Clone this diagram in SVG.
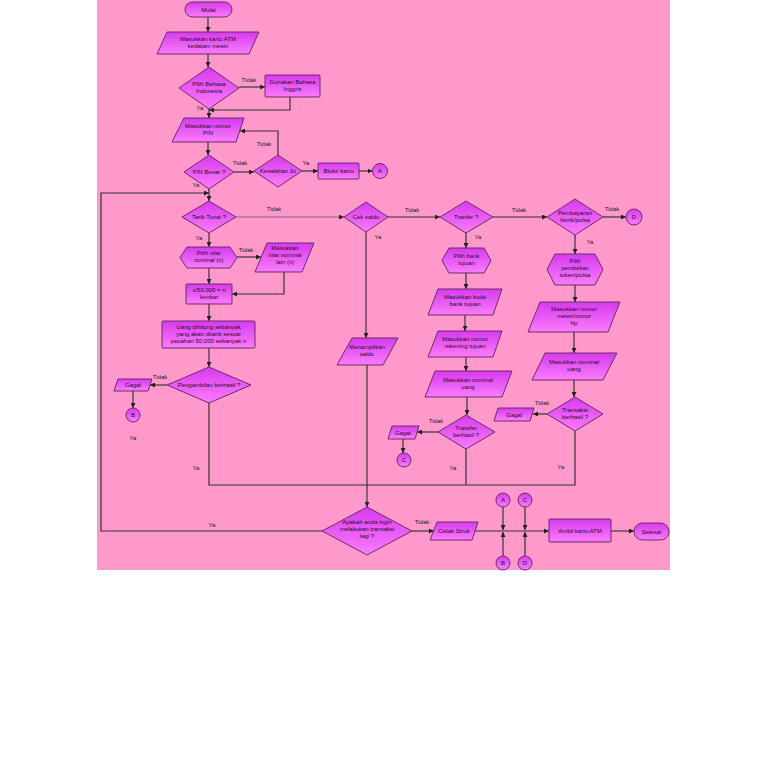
<svg xmlns="http://www.w3.org/2000/svg" width="768" height="765" viewBox="0 0 768 765">
<defs>
<linearGradient id="g" x1="0" y1="0" x2="0" y2="1">
<stop offset="0" stop-color="#D63AEE"/>
<stop offset="1" stop-color="#FA7CFA"/>
</linearGradient>
<marker id="ar" viewBox="0 0 10 10" refX="10" refY="5" markerWidth="5" markerHeight="5" orient="auto" markerUnits="userSpaceOnUse">
<path d="M0,0 L10,5 L0,10 z" fill="#222"/>
</marker>
<style>
.n{fill:url(#g);stroke:#6B2C6B;stroke-width:1}
.t{font-family:"Liberation Sans",Arial,sans-serif;font-size:6px;fill:#2a0a2a;text-anchor:middle}
.l{font-family:"Liberation Sans",Arial,sans-serif;font-size:6px;fill:#222;text-anchor:middle}
.c{stroke:#333;stroke-width:1.2;fill:none}
.a{marker-end:url(#ar)}
.gr{stroke:#8a5a7a}
</style>
</defs>
<rect x="0" y="0" width="768" height="765" fill="#ffffff"/>
<rect x="97" y="0" width="573" height="570" fill="#FF99CC"/>

<g id="connectors">
<line class="c a" x1="208" y1="17" x2="208" y2="32"/>
<line class="c a" x1="208" y1="54" x2="208" y2="67"/>
<line class="c a" x1="239" y1="87" x2="265" y2="87"/>
<polyline class="c a" points="290,97 290,110 209,110"/>
<line class="c a" x1="209" y1="109" x2="209" y2="118"/>
<line class="c a" x1="208" y1="142" x2="208" y2="155"/>
<line class="c a" x1="234" y1="172" x2="254" y2="172"/>
<polyline class="c a" points="278,155 278,131 240,131"/>
<line class="c a" x1="302" y1="171" x2="318" y2="171"/>
<line class="c a" x1="359" y1="171" x2="372.5" y2="171"/>
<line class="c a" x1="209" y1="189" x2="209" y2="201"/>
<polyline class="c a" points="322,531 101,531 101,193 209,193"/>
<line class="c a gr" x1="236" y1="217" x2="344" y2="217"/>
<line class="c a" x1="209" y1="233" x2="209" y2="247"/>
<line class="c a" x1="237" y1="257" x2="261" y2="257"/>
<polyline class="c a" points="284,272 284,294 232,294"/>
<line class="c a" x1="209" y1="268" x2="209" y2="284"/>
<line class="c a" x1="209" y1="304" x2="209" y2="321"/>
<line class="c a" x1="209" y1="348" x2="209" y2="367"/>
<line class="c a" x1="167" y1="385" x2="150" y2="385"/>
<line class="c a" x1="133" y1="391" x2="133" y2="408"/>
<polyline class="c" points="209,403 209,485 575,485 575,431"/>
<line class="c a" x1="388" y1="217" x2="440" y2="217"/>
<line class="c a" x1="493" y1="217" x2="547" y2="217"/>
<line class="c a" x1="603" y1="217" x2="626" y2="217"/>
<line class="c a" x1="366" y1="232" x2="366" y2="338"/>
<line class="c a" x1="367" y1="365" x2="367" y2="507"/>
<line class="c a" x1="466" y1="233" x2="466" y2="248"/>
<line class="c a" x1="466" y1="273" x2="466" y2="289"/>
<line class="c a" x1="465" y1="315" x2="465" y2="331"/>
<line class="c a" x1="466" y1="357" x2="466" y2="371"/>
<line class="c a" x1="467" y1="397" x2="467" y2="415"/>
<line class="c a" x1="438" y1="432" x2="417" y2="432"/>
<line class="c a" x1="403" y1="439" x2="403" y2="453"/>
<line class="c" x1="466" y1="449" x2="466" y2="485"/>
<line class="c a" x1="575" y1="235" x2="575" y2="254"/>
<line class="c a" x1="575" y1="285" x2="575" y2="302"/>
<line class="c a" x1="574" y1="332" x2="574" y2="353"/>
<line class="c a" x1="574" y1="380" x2="574" y2="397"/>
<line class="c a" x1="547" y1="414" x2="533" y2="414"/>
<line class="c a" x1="412" y1="531" x2="434" y2="531"/>
<line class="c a" x1="475" y1="531" x2="549" y2="531"/>
<line class="c a" x1="503" y1="507" x2="503" y2="530"/>
<line class="c a" x1="503" y1="556" x2="503" y2="532"/>
<line class="c a" x1="525" y1="507" x2="525" y2="530"/>
<line class="c a" x1="525" y1="556" x2="525" y2="532"/>
<line class="c a" x1="611" y1="531" x2="634" y2="531"/>
</g>

<g id="labels">
<text class="l" x="249" y="82">Tidak</text>
<text class="l" x="200" y="110">Ya</text>
<text class="l" x="264" y="146">Tidak</text>
<text class="l" x="240" y="165">Tidak</text>
<text class="l" x="306" y="165">Ya</text>
<text class="l" x="196" y="187">Ya</text>
<text class="l" x="274" y="211">Tidak</text>
<text class="l" x="199" y="240">Ya</text>
<text class="l" x="246" y="252">Tidak</text>
<text class="l" x="160" y="379">Tidak</text>
<text class="l" x="133" y="440">Ya</text>
<text class="l" x="196" y="470">Ya</text>
<text class="l" x="212" y="527">Ya</text>
<text class="l" x="412" y="212">Tidak</text>
<text class="l" x="378" y="239">Ya</text>
<text class="l" x="519" y="212">Tidak</text>
<text class="l" x="478" y="239">Ya</text>
<text class="l" x="612" y="211">Tidak</text>
<text class="l" x="590" y="244">Ya</text>
<text class="l" x="436" y="423">Tidak</text>
<text class="l" x="453" y="470">Ya</text>
<text class="l" x="542" y="405">Tidak</text>
<text class="l" x="561" y="469">Ya</text>
<text class="l" x="422" y="524">Tidak</text>
</g>

<g id="mulai"><rect class="n" x="185" y="2" width="47" height="15" rx="7.5"/><text class="t" x="208.5" y="11.5">Mulai</text></g>
<g id="kartu"><polygon class="n" points="167,32 259,32 249,54 157,54"/><text class="t" x="208" y="41">Masukkan kartu ATM</text><text class="t" x="208" y="48">kedalam mesin</text></g>
<g id="bahasa"><polygon class="n" points="209,67 239,88 209,109 179,88"/><text class="t" x="209" y="86">Pilih Bahasa</text><text class="t" x="209" y="93">Indonesia</text></g>
<g id="inggris"><rect class="n" x="265" y="75" width="55" height="22" rx="1"/><text class="t" x="292.5" y="84">Gunakan Bahasa</text><text class="t" x="292.5" y="91">Inggris</text></g>
<g id="pin"><polygon class="n" points="184,118 244,118 236,142 172,142"/><text class="t" x="208" y="128">Masukkan nomor</text><text class="t" x="208" y="135">PIN</text></g>
<g id="pinbenar"><polygon class="n" points="209,155 234,172 209,189 184,172"/><text class="t" x="209" y="174">PIN Benar ?</text></g>
<g id="kesalahan"><polygon class="n" points="278,155 302,171 278,187 254,171"/><text class="t" x="278" y="173">Kesalahan 3x</text></g>
<g id="blokir"><rect class="n" x="318" y="163" width="41" height="16" rx="1"/><text class="t" x="338.5" y="173">Blokir kartu</text></g>
<g id="a1"><circle class="n" cx="380" cy="171" r="7.5"/><text class="t" x="380" y="173">A</text></g>
<g id="tarik"><polygon class="n" points="209,201 236,217 209,233 182,217"/><text class="t" x="209" y="219">Tarik Tunai ?</text></g>
<g id="pilihnilai"><polygon class="n" points="187,247 230,247 237,257.5 230,268 187,268 180,257.5"/><text class="t" x="208.5" y="255">Pilih nilai</text><text class="t" x="208.5" y="262">nominal (x)</text></g>
<g id="nilailain"><polygon class="n" points="267,243 314,243 302,272 255,272"/><text class="t" x="285" y="250">Masukkan</text><text class="t" x="285" y="257">nilai nominal</text><text class="t" x="285" y="264">lain (x)</text></g>
<g id="lembar"><rect class="n" x="186" y="284" width="46" height="20" rx="1"/><text class="t" x="209" y="292">x/50.000 = n</text><text class="t" x="209" y="299">lembar</text></g>
<g id="uang"><rect class="n" x="162" y="321" width="93" height="27" rx="1"/><text class="t" x="208.5" y="329">Uang dihitung sebanyak</text><text class="t" x="208.5" y="336">yang akan ditarik sesuai</text><text class="t" x="208.5" y="343">pecahan 50.000 sebanyak n</text></g>
<g id="pengambilan"><polygon class="n" points="209,367 251,385 209,403 167,385"/><text class="t" x="209" y="387">Pengambilan berhasil ?</text></g>
<g id="gagal1"><polygon class="n" points="118,379 152,379 148,391 114,391"/><text class="t" x="133" y="387">Gagal</text></g>
<g id="b1"><circle class="n" cx="133" cy="415" r="7"/><text class="t" x="133" y="417">B</text></g>
<g id="ceksaldo"><polygon class="n" points="366,202 388,217 366,232 344,217"/><text class="t" x="366" y="219">Cek saldo</text></g>
<g id="tranfer"><polygon class="n" points="466,201 493,217 466,233 440,217"/><text class="t" x="466" y="219">Tranfer ?</text></g>
<g id="pembayaran"><polygon class="n" points="575,199 603,217 575,235 547,217"/><text class="t" x="575" y="215">Pembayaran</text><text class="t" x="575" y="222">listrik/pulsa</text></g>
<g id="d1"><circle class="n" cx="634" cy="217" r="8"/><text class="t" x="634" y="219">D</text></g>
<g id="saldo"><polygon class="n" points="352,338 398,338 383,365 337,365"/><text class="t" x="367" y="349">Menampilkan</text><text class="t" x="367" y="356">saldo</text></g>
<g id="bank"><polygon class="n" points="449,248 484,248 491,260.5 484,273 449,273 442,260.5"/><text class="t" x="466.5" y="258">Pilih bank</text><text class="t" x="466.5" y="265">tujuan</text></g>
<g id="kode"><polygon class="n" points="438,289 502,289 493,315 428,315"/><text class="t" x="465" y="299">Masukkan kode</text><text class="t" x="465" y="306">bank tujuan</text></g>
<g id="rekening"><polygon class="n" points="438,331 502,331 493,357 428,357"/><text class="t" x="465" y="341">Masukkan nomor</text><text class="t" x="465" y="348">rekening tujuan</text></g>
<g id="nominal1"><polygon class="n" points="435,371 512,371 502,397 425,397"/><text class="t" x="468" y="382">Masukkan nominal</text><text class="t" x="468" y="389">uang</text></g>
<g id="transfer"><polygon class="n" points="466,415 495,432 466,449 438,432"/><text class="t" x="466" y="430">Transfer</text><text class="t" x="466" y="437">berhasil ?</text></g>
<g id="gagal2"><polygon class="n" points="392,426 419,426 415,439 388,439"/><text class="t" x="403" y="435">Gagal</text></g>
<g id="c1"><circle class="n" cx="404" cy="460" r="7"/><text class="t" x="404" y="462">C</text></g>
<g id="token"><polygon class="n" points="555,254 595,254 603,269.5 595,285 555,285 547,269.5"/><text class="t" x="575" y="263">Pilih</text><text class="t" x="575" y="270">pembelian</text><text class="t" x="575" y="277">token/pulsa</text></g>
<g id="meter"><polygon class="n" points="540,302 620,302 608,332 528,332"/><text class="t" x="574" y="311">Masukkan nomor</text><text class="t" x="574" y="318">meter/nomor</text><text class="t" x="574" y="325">hp</text></g>
<g id="nominal2"><polygon class="n" points="545,353 617,353 603,380 532,380"/><text class="t" x="574" y="364">Masukkan nominal</text><text class="t" x="574" y="371">uang</text></g>
<g id="transaksi"><polygon class="n" points="575,397 603,414 575,431 547,414"/><text class="t" x="575" y="412">Transaksi</text><text class="t" x="575" y="419">berhasil ?</text></g>
<g id="gagal3"><polygon class="n" points="498,408 534,408 530,421 494,421"/><text class="t" x="514" y="417">Gagal</text></g>
<g id="apakah"><polygon class="n" points="367,507 412,531 367,555 322,531"/><text class="t" x="367" y="524">Apakah anda ingin</text><text class="t" x="367" y="531">melakukan transaksi</text><text class="t" x="367" y="538">lagi ?</text></g>
<g id="cetak"><polygon class="n" points="437,522 478,522 472,540 430,540"/><text class="t" x="454" y="533">Cetak Struk</text></g>
<g id="a2"><circle class="n" cx="503" cy="500" r="7"/><text class="t" x="503" y="502">A</text></g>
<g id="c2"><circle class="n" cx="525" cy="500" r="7"/><text class="t" x="525" y="502">C</text></g>
<g id="b2"><circle class="n" cx="503" cy="563" r="7"/><text class="t" x="503" y="565">B</text></g>
<g id="d2"><circle class="n" cx="525" cy="563" r="7"/><text class="t" x="525" y="565">D</text></g>
<g id="ambil"><rect class="n" x="549" y="519" width="62" height="23" rx="1"/><text class="t" x="580" y="532.5">Ambil kartu ATM</text></g>
<g id="selesai"><rect class="n" x="634" y="523" width="35" height="17" rx="8.5"/><text class="t" x="651.5" y="533.5">Selesai</text></g>
</svg>
